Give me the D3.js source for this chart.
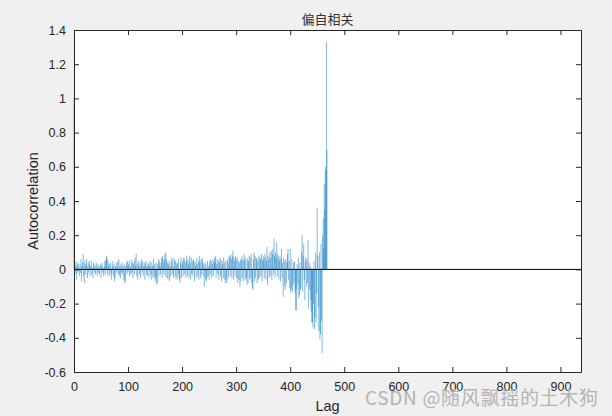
<!DOCTYPE html>
<html>
<head>
<meta charset="utf-8">
<script src="https://cdn.jsdelivr.net/npm/d3@7"></script>
<style>
body { margin: 0; background: #f0f0f0; }
svg { display: block; }
</style>
</head>
<body>
<div id="chart"></div>
<script>
// partial autocorrelation values, lag 0..468
var pacf = [1.0,
	0.05, -0.03, 0.02, 0.05, -0.06, 0.03, -0.02, 0.04, 0.01, -0.04,
	0.03, -0.02, 0.06, -0.07, 0.02, 0.04, 0.09, -0.04, -0.08, 0.05,
	0.03, -0.03, 0.06, 0.02, -0.05, 0.04, -0.02, 0.05, 0.03, -0.04,
	0.02, 0.05, -0.03, 0.01, -0.05, 0.04, 0.03, -0.02, 0.02, -0.03,
	0.04, 0.01, -0.04, 0.03, -0.02, 0.02, -0.03, 0.01, 0.03, -0.05,
	0.02, 0.04, -0.02, 0.01, -0.04, 0.02, 0.05, -0.03, 0.06, 0.08,
	0.07, -0.03, 0.05, 0.02, -0.04, 0.03, -0.02, 0.04, -0.06, -0.03,
	0.02, 0.05, -0.04, 0.03, -0.07, -0.05, 0.02, 0.04, -0.02, 0.01,
	0.05, -0.03, 0.06, -0.04, 0.02, -0.05, 0.03, -0.02, 0.04, -0.03,
	0.02, -0.06, 0.03, -0.08, -0.07, 0.02, 0.04, -0.03, 0.05, -0.02,
	0.03, 0.05, -0.04, 0.02, -0.03, 0.06, -0.02, 0.04, -0.05, 0.03,
	0.05, -0.03, 0.07, 0.02, 0.09, -0.04, 0.03, -0.06, 0.05, 0.02,
	-0.03, 0.04, -0.05, 0.03, 0.06, -0.02, 0.05, -0.04, 0.02, 0.04,
	-0.06, 0.03, 0.05, -0.03, 0.02, -0.04, 0.04, 0.03, -0.05, 0.02,
	0.05, -0.03, -0.06, 0.04, 0.02, -0.05, 0.06, -0.04, 0.03, -0.07,
	-0.05, 0.04, -0.09, -0.08, 0.03, 0.06, -0.04, 0.05, 0.02, -0.03,
	0.04, 0.07, -0.05, 0.08, 0.06, -0.03, 0.05, 0.09, -0.04, 0.10,
	0.06, -0.05, 0.04, -0.06, 0.03, 0.05, -0.07, 0.02, -0.04, 0.06,
	0.04, -0.03, 0.07, -0.05, 0.02, 0.06, -0.04, 0.05, -0.06, 0.03,
	0.04, -0.05, 0.06, -0.03, -0.06, -0.08, 0.04, 0.07, -0.05, 0.03,
	0.05, -0.04, 0.07, 0.06, -0.03, 0.04, -0.05, 0.08, 0.05, -0.04,
	0.06, 0.03, -0.05, 0.08, 0.04, -0.06, 0.07, -0.03, 0.05, -0.04,
	0.06, 0.05, -0.07, 0.04, 0.02, -0.05, 0.07, 0.03, -0.04, 0.05,
	-0.06, 0.08, 0.04, -0.05, 0.06, -0.03, 0.07, 0.05, -0.04, 0.03,
	-0.10, 0.04, -0.06, 0.03, -0.07, -0.05, 0.05, -0.04, 0.02, -0.06,
	0.04, 0.06, -0.03, 0.05, -0.05, 0.03, 0.06, -0.04, 0.05, 0.07,
	0.04, 0.08, -0.05, 0.03, 0.06, -0.03, 0.05, -0.06, 0.04, 0.07,
	-0.04, 0.06, -0.07, 0.05, 0.03, -0.05, 0.07, -0.06, 0.04, -0.08,
	0.05, -0.06, -0.08, 0.06, 0.04, -0.05, 0.08, 0.07, -0.04, 0.09,
	0.06, -0.05, 0.08, 0.11, -0.06, 0.07, 0.05, -0.04, 0.08, 0.06,
	-0.05, 0.07, -0.08, 0.05, -0.06, 0.04, -0.10, 0.06, -0.07, 0.05,
	0.08, -0.05, 0.06, -0.07, 0.09, 0.05, -0.06, 0.07, -0.05, -0.09,
	0.06, -0.08, 0.05, 0.08, -0.06, 0.07, -0.05, 0.09, -0.08, -0.11,
	-0.12, 0.06, 0.10, -0.07, 0.08, -0.05, 0.07, 0.06, -0.08, 0.05,
	-0.06, 0.08, -0.05, 0.07, 0.06, -0.04, 0.09, -0.07, 0.05, 0.08,
	0.06, -0.05, 0.09, 0.07, -0.06, 0.05, 0.13, -0.09, 0.08, 0.06,
	-0.05, 0.10, -0.04, 0.07, 0.11, -0.06, 0.09, 0.12, -0.03, 0.18,
	0.08, -0.05, 0.10, 0.06, 0.16, -0.04, 0.09, 0.07, -0.06, 0.05,
	0.08, -0.07, 0.06, 0.12, -0.05, 0.04, -0.16, 0.07, -0.10, 0.05,
	-0.12, 0.06, -0.08, 0.04, 0.09, 0.12, -0.06, 0.05, -0.11, 0.12,
	-0.14, -0.12, 0.06, -0.13, -0.10, 0.04, -0.08, 0.05, -0.14, -0.24,
	-0.12, -0.24, 0.03, -0.09, 0.07, -0.17, -0.15, 0.04, -0.12, -0.11,
	0.10, 0.20, -0.13, 0.08, 0.15, -0.06, -0.18, 0.05, 0.07, -0.10,
	0.06, -0.08, 0.17, -0.23, 0.04, -0.12, 0.02, -0.18, -0.25, -0.31,
	-0.31, -0.34, -0.20, 0.05, -0.35, -0.28, 0.10, -0.31, -0.14, 0.36,
	0.08, -0.22, -0.36, 0.10, -0.41, -0.38, 0.15, -0.30, -0.49, 0.20,
	0.30, 0.12, 0.50, 0.35, 0.60, 0.58, 1.33, 0.70];

var xTicks = [0, 100, 200, 300, 400, 500, 600, 700, 800, 900];
var yTicks = [-0.6, -0.4, -0.2, 0, 0.2, 0.4, 0.6, 0.8, 1, 1.2, 1.4];
var xDomain = [0, 938];
var yDomain = [-0.6, 1.4];

var W = 612, H = 416;
var m = { left: 74, right: 581, top: 30, bottom: 372 };

var svg = d3.select("#chart").append("svg")
	.attr("width", W)
	.attr("height", H)
	.style("background", "#f0f0f0");

var x = d3.scaleLinear().domain(xDomain).range([m.left, m.right]);
var y = d3.scaleLinear().domain(yDomain).range([m.bottom, m.top]);

svg.append("rect")
	.attr("x", m.left).attr("y", m.top)
	.attr("width", m.right - m.left).attr("height", m.bottom - m.top)
	.attr("fill", "white");

// stems
svg.append("g").selectAll("line")
	.data(pacf)
	.enter().append("line")
	.attr("x1", function(d, i) { return x(i); })
	.attr("x2", function(d, i) { return x(i); })
	.attr("y1", y(0))
	.attr("y2", function(d) { return y(d); })
	.attr("stroke", "#0072BD")
	.attr("stroke-width", 0.5);

// zero line
svg.append("line")
	.attr("x1", x(0)).attr("x2", x(xDomain[1]))
	.attr("y1", y(0)).attr("y2", y(0))
	.attr("stroke", "#000")
	.attr("stroke-width", 1);

var fmt = function(d) { return String(+d.toFixed(1)); };
var font = "'Liberation Sans', Arial, sans-serif";

var gx = svg.append("g")
	.attr("transform", "translate(0," + m.bottom + ")")
	.call(d3.axisBottom(x).tickValues(xTicks).tickSizeInner(-5).tickSizeOuter(0).tickPadding(10));
var gxTop = svg.append("g")
	.attr("transform", "translate(0," + m.top + ")")
	.call(d3.axisTop(x).tickValues(xTicks).tickSizeInner(-5).tickSizeOuter(0).tickFormat(""));
var gy = svg.append("g")
	.attr("transform", "translate(" + m.left + ",0)")
	.call(d3.axisLeft(y).tickValues(yTicks).tickSizeInner(-5).tickSizeOuter(0).tickPadding(8).tickFormat(fmt));
var gyRight = svg.append("g")
	.attr("transform", "translate(" + m.right + ",0)")
	.call(d3.axisRight(y).tickValues(yTicks).tickSizeInner(-5).tickSizeOuter(0).tickFormat(""));

[gx, gxTop, gy, gyRight].forEach(function(g) {
	g.selectAll("path").attr("stroke", "#262626").attr("stroke-width", 1);
	g.selectAll("line").attr("stroke", "#262626").attr("stroke-width", 1);
	g.selectAll("text").attr("fill", "#262626").style("font-family", font).style("font-size", "12.5px");
});

svg.append("text")
	.attr("x", (m.left + m.right) / 2).attr("y", 24)
	.attr("text-anchor", "middle")
	.style("font-family", "'Noto Sans CJK SC', sans-serif")
	.style("font-size", "13px")
	.attr("fill", "#333")
	.text("偏自相关");

svg.append("text")
	.attr("x", (m.left + m.right) / 2).attr("y", 411)
	.attr("text-anchor", "middle")
	.style("font-family", font)
	.style("font-size", "14.5px")
	.attr("fill", "#262626")
	.text("Lag");

svg.append("text")
	.attr("transform", "translate(38," + ((m.top + m.bottom) / 2) + ") rotate(-90)")
	.attr("text-anchor", "middle")
	.style("font-family", font)
	.style("font-size", "14.5px")
	.attr("fill", "#262626")
	.text("Autocorrelation");

// watermark
svg.append("text")
	.attr("x", 365).attr("y", 405)
	.attr("textLength", 233)
	.style("font-family", "'Noto Sans CJK SC', sans-serif")
	.style("font-size", "19px")
	.attr("fill", "#b4b4b4")
	.text("CSDN @随风飘摇的土木狗");
</script>
</body>
</html>
